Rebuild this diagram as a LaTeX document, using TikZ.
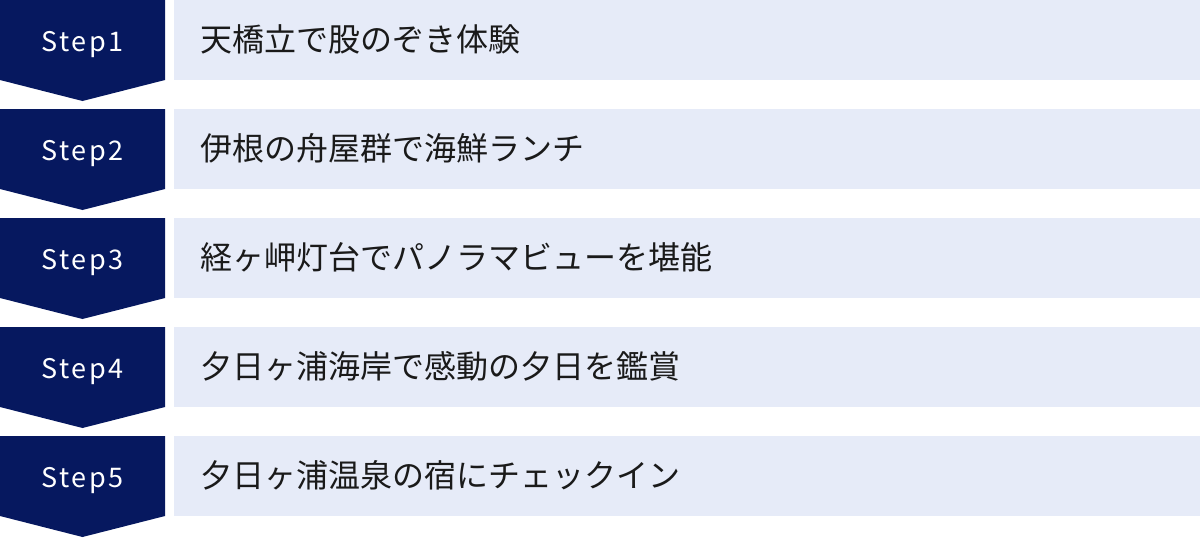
\documentclass[tikz,border=0pt]{standalone}
\usepackage{fontspec}
\setmainfont{Noto Sans CJK JP}
\newfontfamily\steplatin[LetterSpace=9]{Noto Sans CJK JP}
\usetikzlibrary{positioning}
\definecolor{navy}{HTML}{06185F}
\definecolor{pale}{HTML}{E6EBF8}
\definecolor{ink}{HTML}{1A1A1A}

\begin{document}
\begin{tikzpicture}[x=1pt,y=-1pt]
\tikzstyle{steplabel}=[text=white, anchor=base, inner sep=0pt, font=\steplatin\fontsize{27}{30}\selectfont];
\tikzstyle{textbox}=[fill=pale, anchor=north west, minimum width=1026pt, minimum height=80pt];
\tikzstyle{textlabel}=[anchor=base west, inner sep=0pt, text=ink, font=\fontsize{32}{36}\selectfont];
\useasboundingbox (0,0) rectangle (1200,538);
  \foreach \i/\txt in {1/天橋立で股のぞき体験,2/伊根の舟屋群で海鮮ランチ,3/経ヶ岬灯台でパノラマビューを堪能,4/夕日ヶ浦海岸で感動の夕日を鑑賞,5/夕日ヶ浦温泉の宿にチェックイン}{
    \pgfmathsetmacro\top{(\i-1)*109}
    \fill[navy] (0,\top) -- (165,\top) -- (165,\top+80) -- (82.5,\top+101) -- (0,\top+80) -- cycle;
    \node[steplabel] (s\i) at (82.5,\top+51) {Step\i};
    \node[textbox] (t\i) at (174,\top) {};
    \node[textlabel] (l\i) at (200,\top+51) {\txt};
  }
\end{tikzpicture}
\end{document}
